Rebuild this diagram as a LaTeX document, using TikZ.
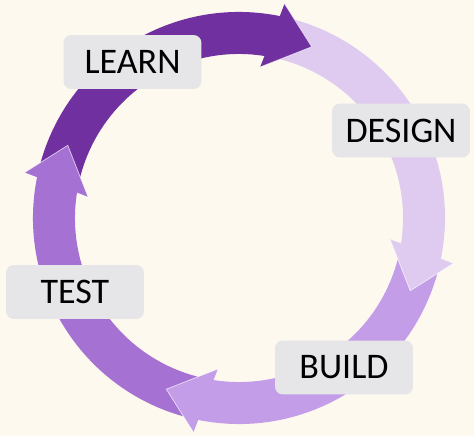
\documentclass[tikz,border=0pt]{standalone}
\usepackage{fontspec}
\setmainfont{Carlito}
\definecolor{learncol}{HTML}{7030A0}
\definecolor{designcol}{HTML}{E0CBF0}
\definecolor{buildcol}{HTML}{C39DE8}
\definecolor{testcol}{HTML}{A571D3}
\definecolor{paper}{HTML}{FDF9EF}
\definecolor{boxgray}{HTML}{E6E5E7}
\tikzset
{
    stagebox/.style  = {rectangle, rounded corners=0.16cm, fill=boxgray, align=center, minimum width=2.76cm, minimum height=1.08cm, font=\fontsize{20.5}{24}\selectfont},
    headedge/.style  = {draw=white, line width=0.4pt, draw opacity=0.7}
}

\begin{document}
\begin{tikzpicture}[x=0.02cm, y=0.02cm]
\fill[paper] (-239,-218) rectangle (235,218);
\useasboundingbox (-239,-218) rectangle (235,218);
% ring bodies, each tail tucked under the previous head
\foreach \t/\c in {67/learncol, -23/designcol, -113/buildcol, -203/testcol}
  \fill[\c] ({\t+101}:206) arc[start angle=\t+101, end angle=\t+11, radius=206]
    -- ({\t+11}:164) arc[start angle=\t+11, end angle=\t+101, radius=164] -- cycle;
% heads on top
\foreach \t/\c in {67/learncol, -23/designcol, -113/buildcol, -203/testcol}
{
  \fill[\c] (\t:186) -- ({\t+11}:219) -- ({\t+15}:152.5) -- cycle;
  \draw[headedge] ({\t+11}:219) -- (\t:186) -- ({\t+15}:152.5);
}
\node [stagebox] at (-106.5,156) (learn)  {LEARN};
\node [stagebox] at (162,87.5)   (design) {DESIGN};
\node [stagebox] at (105,-149.5) (build)  {BUILD};
\node [stagebox] at (-164,-74)   (test)   {TEST};
\end{tikzpicture}
\end{document}
